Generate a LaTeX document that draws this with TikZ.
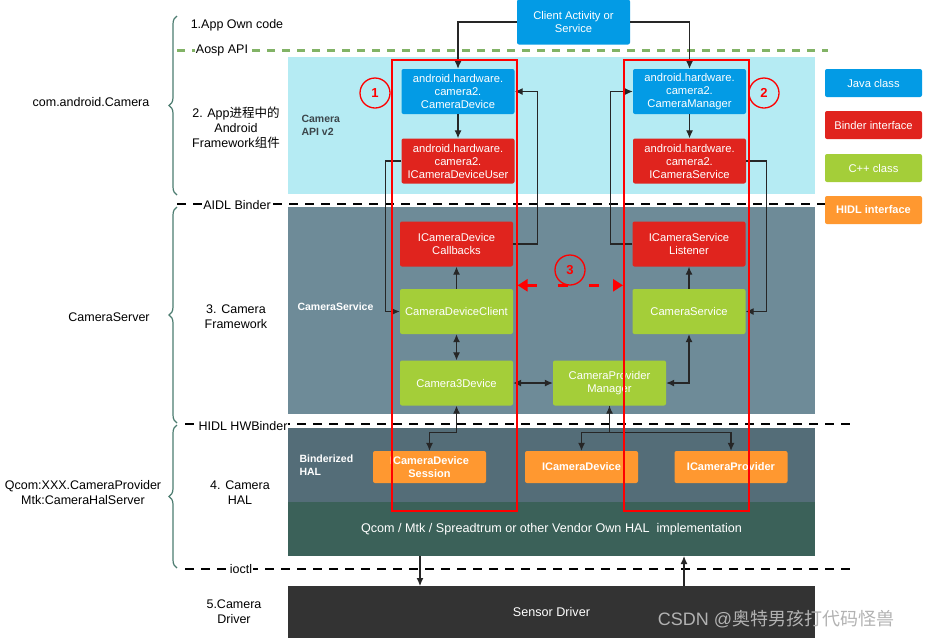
\documentclass[tikz,border=0pt]{standalone}
\usepackage{fontspec}
\setmainfont{Liberation Sans}
\newfontfamily\cjk{Noto Sans CJK SC}
\usepackage{xcolor}
\usepackage{tikz}
\usetikzlibrary{positioning}
\usetikzlibrary{arrows.meta}
\usetikzlibrary{decorations.pathreplacing}

\definecolor{javablue}{RGB}{3,155,229}
\definecolor{binderred}{RGB}{224,36,30}
\definecolor{cppgreen}{RGB}{164,206,57}
\definecolor{hidlorange}{RGB}{255,152,48}
\definecolor{apibg}{RGB}{181,235,243}
\definecolor{svcbg}{RGB}{110,139,152}
\definecolor{halbg}{RGB}{84,109,120}
\definecolor{vendorbg}{RGB}{59,97,89}
\definecolor{driverbg}{RGB}{51,51,51}
\definecolor{aospgreen}{RGB}{130,179,102}
\definecolor{bracegray}{RGB}{76,124,112}
\definecolor{darktext}{RGB}{60,70,75}

\tikzset{flow/.style = {->,> = {Latex[length=8pt,width=7pt]}, line width=1.1pt, draw=black!85}}
\tikzset{bothflow/.style = {flow, <->}}

\begin{document}
\begin{tikzpicture}[x=1pt,y=-1pt,
    box/.style={rounded corners=2pt,text=white,align=center,minimum width=113,minimum height=45,inner sep=1pt,font=\fontsize{11.2}{13}\selectfont},
    java/.style={box,fill=javablue},
    binder/.style={box,fill=binderred},
    cpp/.style={box,fill=cppgreen},
    hidl/.style={box,fill=hidlorange,minimum height=32,font=\fontsize{11}{12.5}\selectfont\bfseries},
    legend/.style={box,minimum width=97,minimum height=28},
    layer/.style={anchor=north west,minimum width=527,inner sep=0pt,outer sep=0pt,text=white,font=\fontsize{12.6}{14}\selectfont},
    laytitle/.style={anchor=west,align=left,font=\bfseries\fontsize{10.5}{13}\selectfont},
    note/.style={align=center,font=\fontsize{12.5}{15}\selectfont},
    seplabel/.style={note,fill=white,inner sep=1pt},
    sepline/.style={line width=2.5pt,dash pattern=on 9pt off 7pt},
    redframe/.style={draw=red,line width=1.6pt,anchor=north west,minimum width=125,minimum height=451,inner sep=0pt},
    numcircle/.style={circle,draw=red,line width=1.3pt,minimum size=30,inner sep=0pt,text=red,font=\bfseries\fontsize{13}{13}\selectfont},
    reddash/.style={red,line width=3pt,dash pattern=on 10pt off 21pt,{Triangle[length=10pt,width=12pt]}-{Triangle[length=10pt,width=12pt]}},
    layerbrace/.style={draw=bracegray,line width=1.2pt,decorate,decoration={brace,amplitude=8pt}}]
\useasboundingbox (0,0) rectangle (929,638);

% layers
\node[layer,fill=apibg,minimum height=137] (apilayer) at (288,57) {};
\node[layer,fill=svcbg,minimum height=207] (svclayer) at (288,207) {};
\node[layer,fill=halbg,minimum height=74] (hallayer) at (288,428) {};
\node[layer,fill=vendorbg,minimum height=54] (vendorlayer) at (288,502) {Qcom / Mtk / Spreadtrum or other Vendor Own HAL\ \ implementation};
\node[layer,fill=driverbg,minimum height=52] (driverlayer) at (288,586) {Sensor Driver};

\node[laytitle,text=darktext] (apititle) at (298,125) {Camera\\API v2};
\node[laytitle,text=white] (svctitle) at (294,307) {CameraService};
\node[laytitle,text=white] (haltitle) at (296,465) {Binderized\\HAL};

% separators
\draw[aospgreen,line width=3pt,dash pattern=on 8pt off 7pt] (177,50) -- (828,50);
\draw[sepline] (177,204) -- (828,204);
\draw[sepline] (185,424) -- (851,424);
\draw[sepline] (185,569) -- (851,569);
\node[seplabel] (aosp) at (222,50) {Aosp API};
\node[seplabel] (aidl) at (237,205) {AIDL Binder};
\node[seplabel] (hwbinder) at (243,426) {HIDL HWBinder};
\node[seplabel] (ioctl) at (241,569) {ioctl};

% left side
\node[note] (appcode) at (237,25) {1.App Own code};
\node[note] (appfw) at (236,128) {2. App{\cjk 进程中的}\\Android\\Framework{\cjk 组件}};
\node[note] (camfw) at (236,317) {3. Camera\\Framework};
\node[note] (camhal) at (240,493) {4. Camera\\HAL};
\node[note] (camdrv) at (234,612) {5.Camera\\Driver};
\node[note] (appproc) at (91,102) {com.android.Camera};
\node[note] (serverproc) at (109,317) {CameraServer};
\node[note] (halproc) at (83,493) {Qcom:XXX.CameraProvider\\Mtk:CameraHalServer};
\draw[layerbrace] (177,195) -- (177,16);
\draw[layerbrace] (177,423) -- (177,207);
\draw[layerbrace] (177,568) -- (177,425);

% classes
\node[java] (client) at (573.5,22) {Client Activity or\\Service};
\node[java] (camdev) at (458,91.5) {android.hardware.\\camera2.\\CameraDevice};
\node[binder] (devuser) at (458,161) {android.hardware.\\camera2.\\ICameraDeviceUser};
\node[java] (cammgr) at (689.5,91.5) {android.hardware.\\camera2.\\CameraManager};
\node[binder] (camsvcif) at (689.5,161) {android.hardware.\\camera2.\\ICameraService};
\node[binder] (devcb) at (456.5,244) {ICameraDevice\\Callbacks};
\node[binder] (svclistener) at (689,244) {ICameraService\\Listener};
\node[cpp] (devclient) at (456.5,311.5) {CameraDeviceClient};
\node[cpp] (camsvc) at (689,311.5) {CameraService};
\node[cpp] (cam3dev) at (456.5,383) {Camera3Device};
\node[cpp] (provmgr) at (609.5,383) {CameraProvider\\Manager};
\node[hidl] (devsession) at (429.5,467) {ICameraDevice\\Session};
\node[hidl] (hidldev) at (581.5,467) {ICameraDevice};
\node[hidl] (hidlprov) at (731,467) {ICameraProvider};

% legend
\node[legend,fill=javablue] (lgjava) at (873.5,83) {Java class};
\node[legend,fill=binderred] (lgbinder) at (873.5,125) {Binder interface};
\node[legend,fill=cppgreen] (lgcpp) at (873.5,168) {C++ class};
\node[legend,fill=hidlorange,font=\bfseries\fontsize{11}{13}\selectfont] (lghidl) at (873.5,210) {HIDL interface};

% calls
\draw[flow] (client.west) -| (camdev.north);
\draw[flow] (client.east) -| (cammgr.north);
\draw[flow] (camdev) -- (devuser);
\draw[flow] (cammgr) -- (camsvcif);
\draw[flow] (devuser.west) -- ++(-16,0) |- (devclient.west);
\draw[flow] (devcb.east) -- ++(24,0) |- (camdev.east);
\draw[flow] (svclistener.west) -- ++(-22,0) |- (cammgr.west);
\draw[flow] (camsvcif.east) -- ++(20,0) |- (camsvc.east);
\draw[flow] (devclient) -- (devcb);
\draw[flow] (camsvc) -- (svclistener);
\draw[bothflow] (devclient) -- (cam3dev);
\draw[bothflow] (cam3dev) -- (provmgr);
\draw[bothflow] (provmgr.east) -| (camsvc.south);
\draw[bothflow] (cam3dev.south) -- ++(0,27) -| (devsession.north);
\draw[bothflow] (provmgr.south) -- ++(0,27) -| (hidldev.north);
\draw[flow] (provmgr.south) -- ++(0,27) -| (hidlprov.north);
\draw[flow] ([xshift=-131.5pt]vendorlayer.south) -- ([xshift=-131.5pt]driverlayer.north);
\draw[flow] ([xshift=132.5pt]driverlayer.north) -- ([xshift=132.5pt]vendorlayer.south);

% marks
\node[redframe] (frameL) at (391,59) {};
\node[redframe] (frameR) at (623,59) {};
\node[numcircle] (one) at (375,93) {1};
\node[numcircle] (two) at (764,93) {2};
\node[numcircle] (three) at (570,270) {3};
\draw[reddash] (frameL.east) -- (frameR.west);

\node[text=black!30,font=\fontsize{18}{18}\selectfont] (mark) at (776,619) {CSDN @{\cjk 奥特男孩打代码怪兽}};
\end{tikzpicture}
\end{document}
